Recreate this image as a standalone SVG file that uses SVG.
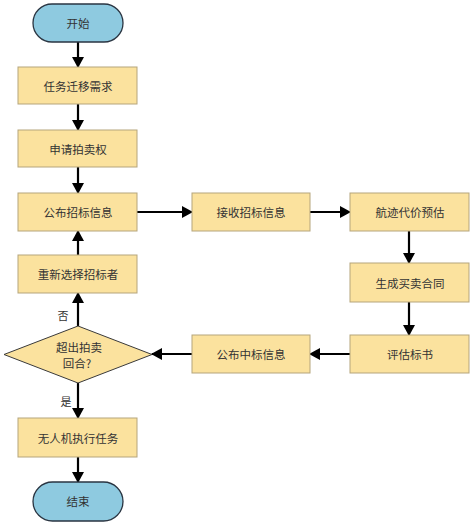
<svg xmlns="http://www.w3.org/2000/svg" width="474" height="525" viewBox="0 0 474 525">
<style>
.box{fill:#fbe29e;stroke:#b5a57c;stroke-width:1}
.term{fill:#8ecae0;stroke:#2a3542;stroke-width:1.3}
.dia{fill:#fbe29e;stroke:#3a3a3a;stroke-width:1}
text{font-family:"Noto Sans CJK SC","Liberation Sans",sans-serif;font-size:11.5px;fill:#333;text-anchor:middle;dominant-baseline:central}
.lbl{font-size:11px}
.c{stroke:#000;stroke-width:2.2;fill:none;marker-end:url(#ah)}
</style>
<defs>
<marker id="ah" markerWidth="12" markerHeight="12" refX="10" refY="6" orient="auto" markerUnits="userSpaceOnUse">
<path d="M0,0 L11,6 L0,12 Z" fill="#000"/>
</marker>
</defs>
<rect width="474" height="525" fill="#fff"/>
<g id="connectors">
<line class="c" x1="78" y1="42" x2="78" y2="67"/>
<line class="c" x1="78" y1="104" x2="78" y2="130"/>
<line class="c" x1="78" y1="167" x2="78" y2="193"/>
<line class="c" x1="137" y1="212" x2="192" y2="212"/>
<line class="c" x1="310" y1="212" x2="350" y2="212"/>
<line class="c" x1="409" y1="231" x2="409" y2="263"/>
<line class="c" x1="409" y1="302" x2="409" y2="335"/>
<line class="c" x1="350" y1="354" x2="310" y2="354"/>
<line class="c" x1="192" y1="354" x2="152" y2="354"/>
<line class="c" x1="78" y1="326" x2="78" y2="293"/>
<line class="c" x1="78" y1="255" x2="78" y2="231"/>
<line class="c" x1="78" y1="383" x2="78" y2="418"/>
<line class="c" x1="78" y1="457" x2="78" y2="482"/>
<text class="lbl" x="63" y="315">否</text>
<text class="lbl" x="66" y="401">是</text>
</g>
<g id="start"><rect class="term" x="33" y="4" width="90" height="38" rx="19"/><text x="78" y="23">开始</text></g>
<g id="n1"><rect class="box" x="18" y="67" width="119" height="37"/><text x="78" y="86">任务迁移需求</text></g>
<g id="n2"><rect class="box" x="18" y="130" width="119" height="37"/><text x="78" y="149">申请拍卖权</text></g>
<g id="n3"><rect class="box" x="18" y="193" width="119" height="38"/><text x="78" y="212">公布招标信息</text></g>
<g id="n4"><rect class="box" x="192" y="193" width="118" height="38"/><text x="251" y="212">接收招标信息</text></g>
<g id="n5"><rect class="box" x="350" y="193" width="119" height="38"/><text x="410" y="212">航迹代价预估</text></g>
<g id="n6"><rect class="box" x="350" y="263" width="119" height="39"/><text x="410" y="283">生成买卖合同</text></g>
<g id="n7"><rect class="box" x="350" y="335" width="119" height="38"/><text x="410" y="354">评估标书</text></g>
<g id="n8"><rect class="box" x="192" y="335" width="118" height="38"/><text x="251" y="354">公布中标信息</text></g>
<g id="n9"><rect class="box" x="18" y="255" width="119" height="38"/><text x="78" y="274">重新选择招标者</text></g>
<g id="dec"><polygon class="dia" points="78,326 152,354.5 78,383 4,354.5"/><text x="79" y="347">超出拍卖</text><text x="77" y="363">回合?</text></g>
<g id="n10"><rect class="box" x="18" y="418" width="119" height="39"/><text x="78" y="438">无人机执行任务</text></g>
<g id="end"><rect class="term" x="33" y="482" width="90" height="39" rx="19.5"/><text x="78" y="501">结束</text></g>
</svg>
